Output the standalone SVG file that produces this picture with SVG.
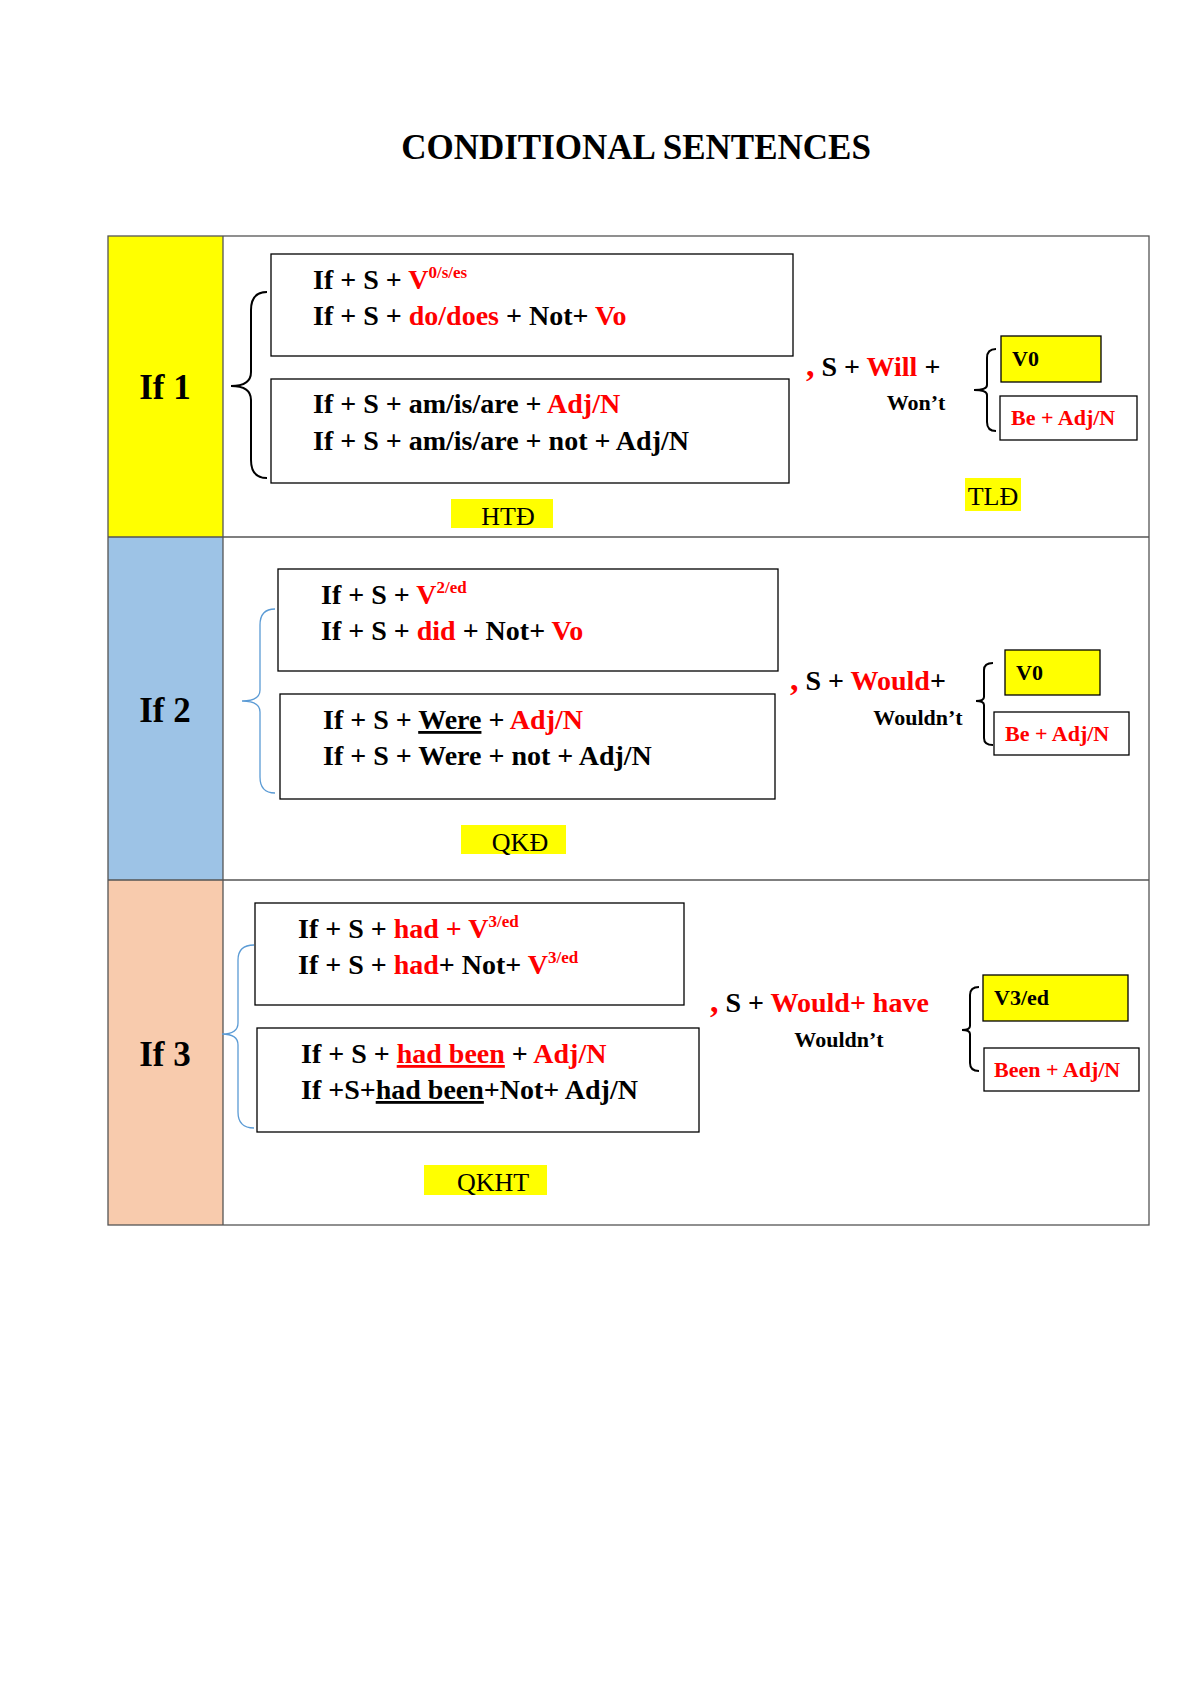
<svg xmlns="http://www.w3.org/2000/svg" width="1200" height="1697" viewBox="0 0 1200 1697">
<style>
text{font-family:"Liberation Serif","Times New Roman",serif;font-weight:bold;fill:#000}
.f{font-size:28px}
.r{fill:#ff0000}
.sup{font-size:17px}
.box{fill:#fff;stroke:#000;stroke-width:1.3}
.yb{fill:#ffff00;stroke:#000;stroke-width:1.3}
.br{fill:none;stroke:#000;stroke-width:2}
.bb{fill:none;stroke:#5b9bd5;stroke-width:1.3}
.lbl{font-size:35px;text-anchor:middle}
.hl{font-weight:normal;font-size:26px;text-anchor:middle}
.sm{font-size:22px}
.u{text-decoration:underline}
</style>
<rect width="1200" height="1697" fill="#fff"/>
<text x="636" y="159" font-size="35" text-anchor="middle">CONDITIONAL SENTENCES</text>
<g id="table">
<rect x="108" y="236" width="115" height="301" fill="#ffff00"/>
<rect x="108" y="537" width="115" height="343" fill="#9dc3e6"/>
<rect x="108" y="880" width="115" height="345" fill="#f8cbad"/>
<rect x="108" y="236" width="1041" height="989" fill="none" stroke="#555" stroke-width="1.3"/>
<line x1="223" y1="236" x2="223" y2="1225" stroke="#555" stroke-width="1.3"/>
<line x1="108" y1="537" x2="1149" y2="537" stroke="#555" stroke-width="1.3"/>
<line x1="108" y1="880" x2="1149" y2="880" stroke="#555" stroke-width="1.3"/>
<text class="lbl" x="165" y="399">If 1</text>
<text class="lbl" x="165" y="722">If 2</text>
<text class="lbl" x="165" y="1066">If 3</text>
</g>
<g id="connectors">
<path class="br" d="M267,292 Q251,292 251,310 L251,372 Q251,386 231,386 Q251,386 251,400 L251,460 Q251,478 267,478"/>
<path class="br" d="M996,349 Q987,349 987,358 L987,385 Q987,390 974,390 Q987,390 987,395 L987,422 Q987,431 996,431"/>
<path class="bb" d="M275,609 Q260,609 260,625 L260,690 Q260,701 242,701 Q260,701 260,712 L260,777 Q260,793 275,793"/>
<path class="br" d="M993,663 Q984,663 984,670 L984,697 Q984,701 976,701 Q984,701 984,705 L984,738 Q984,745 993,745"/>
<path class="bb" d="M254,945 Q238,945 238,960 L238,1023 Q238,1034 222,1034 Q238,1034 238,1045 L238,1112 Q238,1128 254,1128"/>
<path class="br" d="M979,987 Q970,987 970,995 L970,1026 Q970,1030 962,1030 Q970,1030 970,1034 L970,1063 Q970,1071 979,1071"/>
</g>
<g id="if1">
<rect class="box" x="271" y="254" width="522" height="102"/>
<text class="f" x="313" y="289">If + S + <tspan class="r">V<tspan class="sup" dy="-11">0/s/es</tspan></tspan></text>
<text class="f" x="313" y="325">If + S + <tspan class="r">do/does</tspan> + Not+ <tspan class="r">Vo</tspan></text>
<rect class="box" x="271" y="379" width="518" height="104"/>
<text class="f" x="313" y="413">If + S + am/is/are + <tspan class="r">Adj/N</tspan></text>
<text class="f" x="313" y="450">If + S + am/is/are + not + Adj/N</text>
<rect x="451" y="499" width="102" height="29" fill="#ffff00"/>
<text class="hl" x="508" y="525">HTĐ</text>
<text class="f" x="806" y="376"><tspan class="r" font-size="34">,</tspan> S + <tspan class="r">Will</tspan> +</text>
<text class="sm" x="916" y="410" text-anchor="middle">Won’t</text>
<rect class="yb" x="1001" y="336" width="100" height="46"/>
<text class="sm" x="1012" y="366">V0</text>
<rect class="box" x="1000" y="396" width="137" height="44"/>
<text class="sm r" x="1011" y="425" font-size="21">Be + Adj/N</text>
<rect x="965" y="478" width="56" height="33" fill="#ffff00"/>
<text class="hl" x="993" y="505">TLĐ</text>
</g>
<g id="if2">
<rect class="box" x="278" y="569" width="500" height="102"/>
<text class="f" x="321" y="604">If + S + <tspan class="r">V<tspan class="sup" dy="-11">2/ed</tspan></tspan></text>
<text class="f" x="321" y="640">If + S + <tspan class="r">did</tspan> + Not+ <tspan class="r">Vo</tspan></text>
<rect class="box" x="280" y="694" width="495" height="105"/>
<text class="f" x="323" y="729">If + S + <tspan class="u">Were</tspan> + <tspan class="r">Adj/N</tspan></text>
<text class="f" x="323" y="765">If + S + Were + not + Adj/N</text>
<rect x="461" y="825" width="105" height="29" fill="#ffff00"/>
<text class="hl" x="520" y="851">QKĐ</text>
<text class="f" x="790" y="690"><tspan class="r" font-size="34">,</tspan> S + <tspan class="r">Would</tspan>+</text>
<text class="sm" x="918" y="725" text-anchor="middle">Wouldn’t</text>
<rect class="yb" x="1005" y="650" width="95" height="45"/>
<text class="sm" x="1016" y="680">V0</text>
<rect class="box" x="994" y="712" width="135" height="43"/>
<text class="sm r" x="1005" y="741" font-size="21">Be + Adj/N</text>
</g>
<g id="if3">
<rect class="box" x="255" y="903" width="429" height="102"/>
<text class="f" x="298" y="938">If + S + <tspan class="r">had + V<tspan class="sup" dy="-11">3/ed</tspan></tspan></text>
<text class="f" x="298" y="974">If + S + <tspan class="r">had</tspan>+ Not+ <tspan class="r">V<tspan class="sup" dy="-11">3/ed</tspan></tspan></text>
<rect class="box" x="257" y="1028" width="442" height="104"/>
<text class="f" x="301" y="1063">If + S + <tspan class="r u">had been</tspan> + <tspan class="r">Adj/N</tspan></text>
<text class="f" x="301" y="1099">If +S+<tspan class="u">had been</tspan>+Not+ Adj/N</text>
<rect x="424" y="1165" width="123" height="30" fill="#ffff00"/>
<text class="hl" x="493" y="1191">QKHT</text>
<text class="f" x="710" y="1012"><tspan class="r" font-size="34">,</tspan> S + <tspan class="r">Would+ have</tspan></text>
<text class="sm" x="839" y="1047" text-anchor="middle">Wouldn’t</text>
<rect class="yb" x="983" y="975" width="145" height="46"/>
<text class="sm" x="994" y="1005">V3/ed</text>
<rect class="box" x="984" y="1048" width="155" height="43"/>
<text class="sm r" x="994" y="1077" font-size="21">Been + Adj/N</text>
</g>
</svg>
